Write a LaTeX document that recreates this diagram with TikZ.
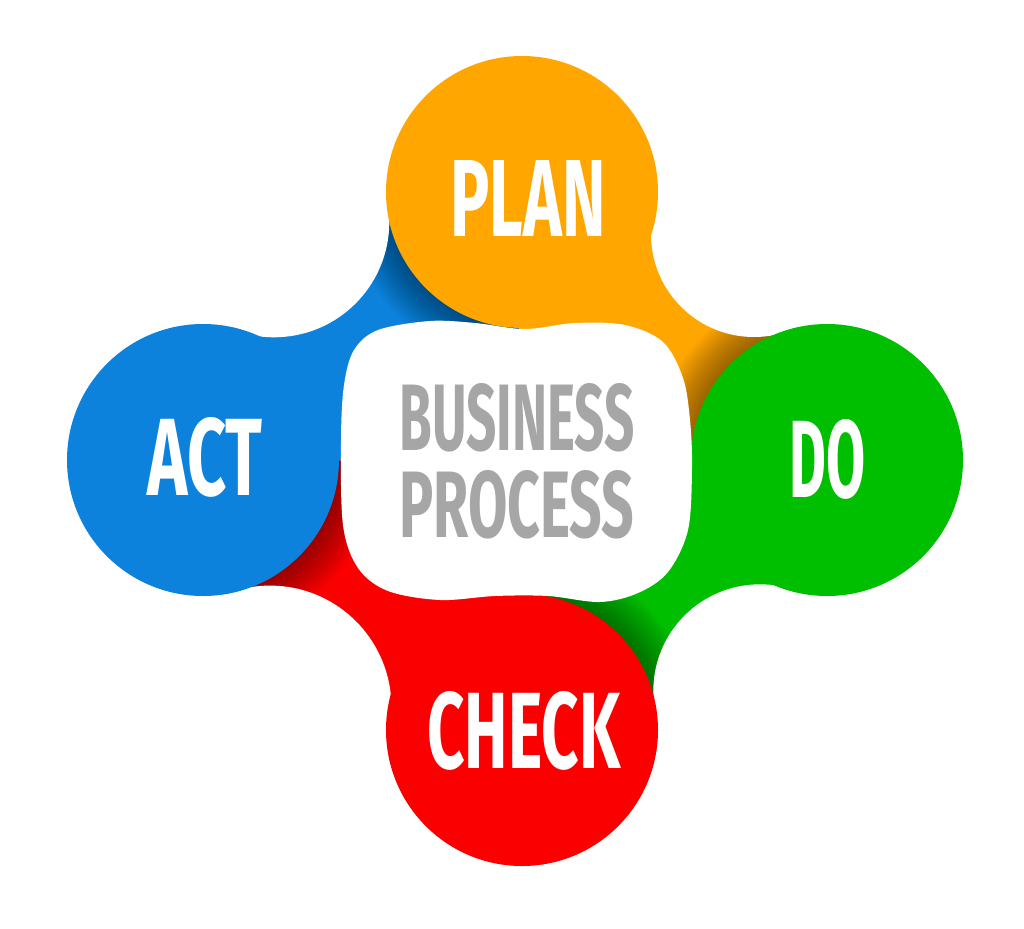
\documentclass[tikz,border=0pt]{standalone}
\usepackage{fontspec}
\usepackage{graphicx}
\newfontfamily\labelfont{Fira Sans}
\definecolor{cplan}{RGB}{255,166,0}
\definecolor{cdo}{RGB}{0,190,0}
\definecolor{ccheck}{RGB}{250,0,0}
\definecolor{cact}{RGB}{12,130,220}
\definecolor{ctext}{RGB}{166,166,166}
\begin{document}
\begin{tikzpicture}[x=1pt,y=-1pt,
  disc/.style={circle,inner sep=0pt,minimum size=272pt},
  hole/.style={circle,inner sep=0pt,fill=white},
  lbl/.style={inner sep=0pt,text=white,font=\labelfont\bfseries},
  centerlbl/.style={inner sep=0pt,text=ctext,font=\labelfont\bfseries},
  shadowring/.style={fill=black,opacity=0.024}]
\useasboundingbox (0,0) rectangle (1024,928);
\fill[white] (0,0) rectangle (1024,928);
% key points
\coordinate (O) at (516,461);
\coordinate (cP) at (522,192);
\coordinate (cD) at (827,460);
\coordinate (cC) at (522,730);
\coordinate (cA) at (203,460);
\coordinate (nTL) at (274,222);
\coordinate (nTR) at (754,234);
\coordinate (nBR) at (760,691);
\coordinate (nBL) at (270,707);
% tails
\fill[cact] (O) -- (cA) -- (nTL) -- (cP) -- cycle;
\fill[cplan] (O) -- (cP) -- (nTR) -- (cD) -- cycle;
\fill[cdo] (O) -- (cD) -- (nBR) -- (cC) -- cycle;
\fill[ccheck] (O) -- (cC) -- (nBL) -- (cA) -- cycle;
% shadows cast by the next circle onto each tail
\begin{scope}
  \clip (O) -- (cA) -- (nTL) -- (cP) -- cycle;
  \foreach \k in {1,...,18} \fill[shadowring] (cP) circle[radius={136pt+2.2pt*\k}];
\end{scope}
\begin{scope}
  \clip (O) -- (cP) -- (nTR) -- (cD) -- cycle;
  \foreach \k in {1,...,18} \fill[shadowring] (cD) circle[radius={136pt+2.2pt*\k}];
\end{scope}
\begin{scope}
  \clip (O) -- (cD) -- (nBR) -- (cC) -- cycle;
  \foreach \k in {1,...,18} \fill[shadowring] (cC) circle[radius={136pt+2.2pt*\k}];
\end{scope}
\begin{scope}
  \clip (O) -- (cC) -- (nBL) -- (cA) -- cycle;
  \foreach \k in {1,...,18} \fill[shadowring] (cA) circle[radius={136pt+2.2pt*\k}];
\end{scope}
% negative space circles
\node[hole,minimum size=230.6pt] (holeTL) at (nTL) {};
\node[hole,minimum size=206pt] (holeTR) at (nTR) {};
\node[hole,minimum size=213.4pt] (holeBR) at (nBR) {};
\node[hole,minimum size=242.8pt] (holeBL) at (nBL) {};
% main circles
\node[disc,fill=cplan] (plan) at (cP) {};
\node[disc,fill=cdo] (do) at (cD) {};
\node[disc,fill=ccheck] (check) at (cC) {};
\node[disc,fill=cact] (act) at (cA) {};
% center blob
\fill[white] plot[smooth cycle,tension=0.55] coordinates {
  (341,440) (344,385) (354,350) (378,330) (430,321) (475,323) (525,329)
  (575,323) (625,325) (663,342) (683,378) (690,420) (692,468) (688,530)
  (668,572) (638,593) (600,602) (548,596) (495,596) (440,600) (388,591)
  (358,568) (343,525)};
% labels
\node[lbl] (plantext) at (528,198) {\resizebox{155pt}{76pt}{PLAN}};
\node[lbl] (acttext) at (205,457) {\resizebox{115pt}{78pt}{ACT}};
\node[lbl] (dotext) at (828,459) {\resizebox{76pt}{78pt}{DO}};
\node[lbl] (checktext) at (524,731) {\resizebox{193pt}{77pt}{CHECK}};
\node[centerlbl] (bustext) at (517,418) {\resizebox{235pt}{67pt}{BUSINESS}};
\node[centerlbl] (proctext) at (517,505) {\resizebox{235pt}{67pt}{PROCESS}};
\end{tikzpicture}
\end{document}
